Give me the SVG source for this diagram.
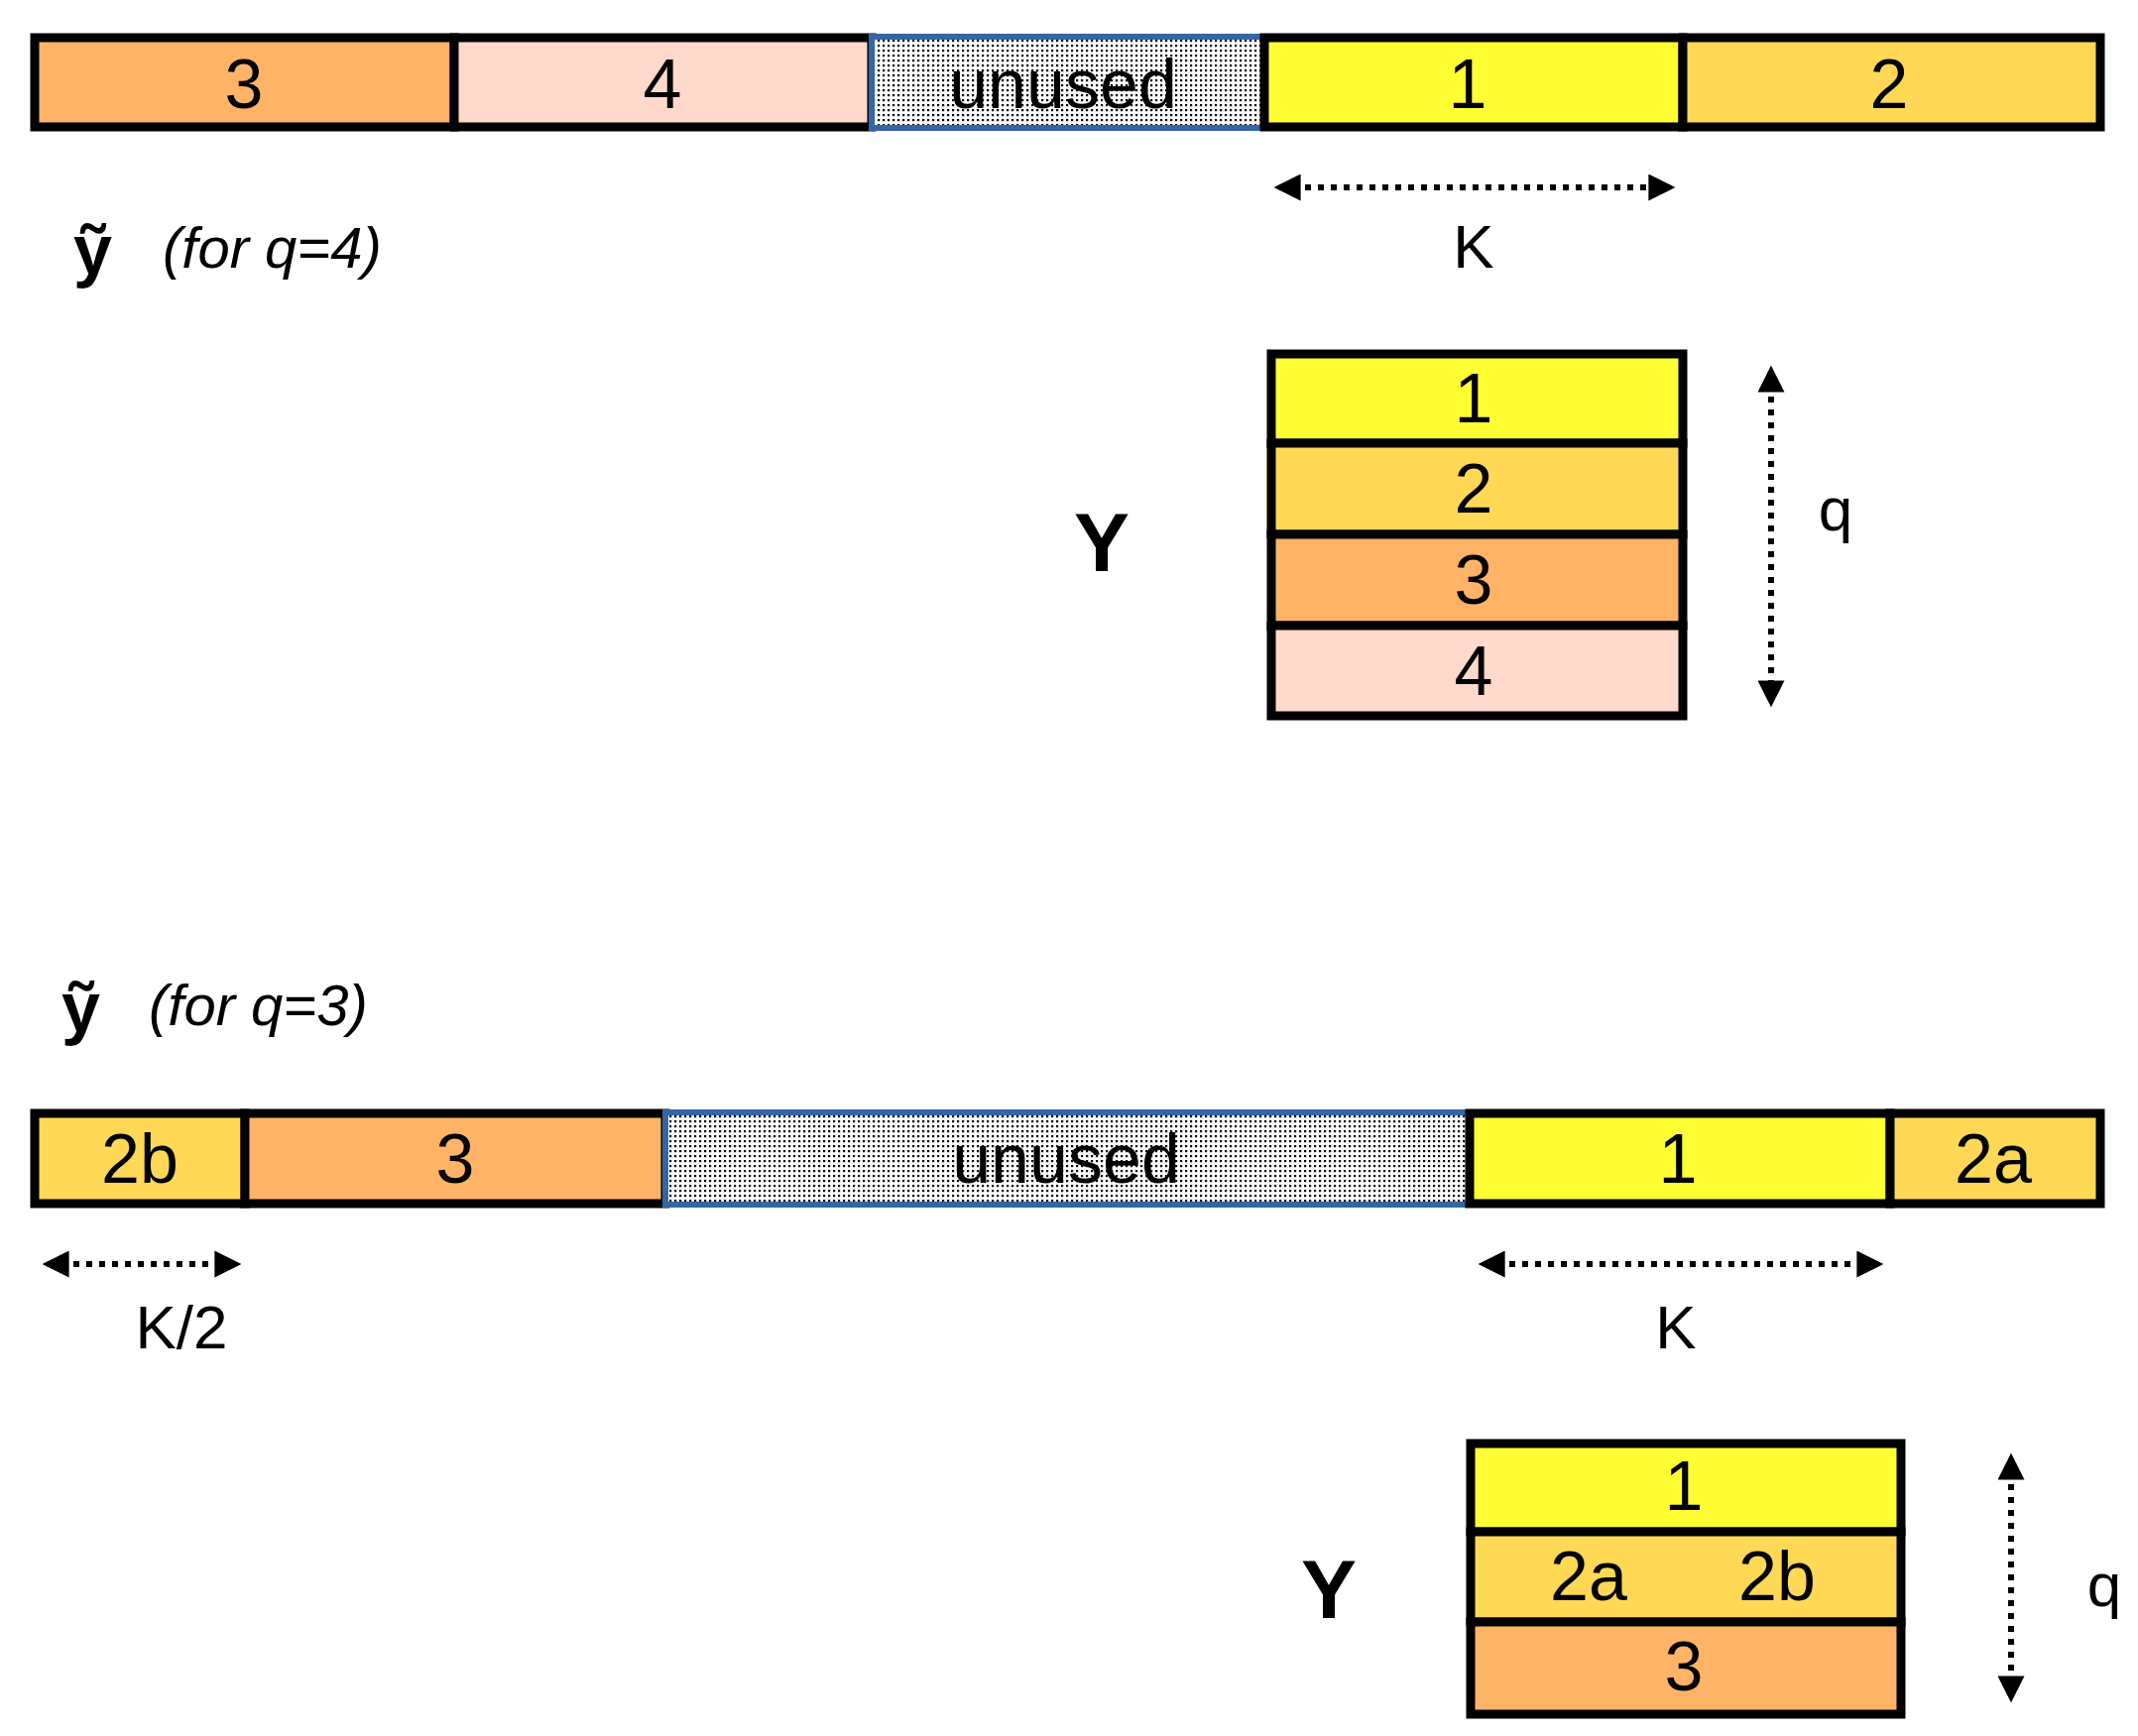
<svg xmlns="http://www.w3.org/2000/svg" width="2156" height="1751" viewBox="0 0 2156 1751">
<style>
.c{stroke:#000;stroke-width:9}
.u{stroke:#3465a4;stroke-width:6;fill:url(#dots)}
.y1{fill:#ffff33}.y2{fill:#ffd955}.y3{fill:#ffb366}.y4{fill:#ffd9cc}
text{font-family:"Liberation Sans",Arial,sans-serif;fill:#000}
.n{font-size:70px;text-anchor:middle}
.l{font-size:62px;text-anchor:middle}
.it{font-size:58px;font-style:italic}
.t{font-size:70px;font-weight:bold}
.b{font-size:84px;font-weight:bold;text-anchor:middle}
.a{stroke:#000;stroke-width:6;stroke-dasharray:6 7;fill:none;marker-start:url(#ah);marker-end:url(#ah)}
</style>
<defs>
<pattern id="dots" width="5" height="5" patternUnits="userSpaceOnUse"><rect width="5" height="5" fill="#fff"/><rect width="2.2" height="2.2" fill="#000"/></pattern>
<marker id="ah" viewBox="0 0 10 10" refX="8" refY="5" markerWidth="4.5" markerHeight="4.5" orient="auto-start-reverse" markerUnits="strokeWidth"><path d="M0,0L10,5L0,10z" fill="#000"/></marker>
</defs>
<g id="top-bar">
<rect class="c y3" x="35" y="38" width="423" height="90"/><text class="n" x="246" y="109">3</text>
<rect class="c y4" x="458" y="38" width="421" height="90"/><text class="n" x="668" y="109">4</text>
<rect class="u" x="879" y="37" width="396" height="92"/><text class="n" x="1072" y="109">unused</text>
<rect class="c y1" x="1275" y="38" width="422" height="90"/><text class="n" x="1480" y="109">1</text>
<rect class="c y2" x="1697" y="38" width="421" height="90"/><text class="n" x="1905" y="109">2</text>
</g>
<g id="label-y4"><text class="t" x="74" y="276">ỹ</text><text class="it" x="164" y="270">(for q=4)</text></g>
<g id="top-Y">
<text class="b" x="1111" y="576">Y</text>
<rect class="c y1" x="1282" y="357" width="415" height="90"/><text class="n" x="1486" y="426">1</text>
<rect class="c y2" x="1282" y="447" width="415" height="92"/><text class="n" x="1486" y="517">2</text>
<rect class="c y3" x="1282" y="539" width="415" height="92"/><text class="n" x="1486" y="609">3</text>
<rect class="c y4" x="1282" y="631" width="415" height="91"/><text class="n" x="1486" y="701">4</text>
</g>
<g id="label-y3"><text class="t" x="62" y="1040">ỹ</text><text class="it" x="150" y="1034">(for q=3)</text></g>
<g id="bottom-bar">
<rect class="c y2" x="35" y="1123" width="212" height="91"/><text class="n" x="141" y="1193">2b</text>
<rect class="c y3" x="247" y="1123" width="424" height="91"/><text class="n" x="459" y="1193">3</text>
<rect class="u" x="671" y="1122" width="811" height="93"/><text class="n" x="1075" y="1193">unused</text>
<rect class="c y1" x="1482" y="1123" width="424" height="91"/><text class="n" x="1692" y="1193">1</text>
<rect class="c y2" x="1906" y="1123" width="212" height="91"/><text class="n" x="2010" y="1193">2a</text>
</g>
<g id="bottom-Y">
<text class="b" x="1340" y="1632">Y</text>
<rect class="c y1" x="1483" y="1456" width="434" height="89"/><text class="n" x="1698" y="1523">1</text>
<rect class="c y2" x="1483" y="1545" width="434" height="91"/><text class="n" x="1602" y="1614">2a</text><text class="n" x="1792" y="1614">2b</text>
<rect class="c y3" x="1483" y="1636" width="434" height="93"/><text class="n" x="1698" y="1705">3</text>
</g>
<g id="connectors">
<line class="a" x1="1290" y1="189" x2="1684" y2="189"/>
<line class="a" x1="1786" y1="374" x2="1786" y2="708"/>
<line class="a" x1="48" y1="1275" x2="238" y2="1275"/>
<line class="a" x1="1496" y1="1275" x2="1894" y2="1275"/>
<line class="a" x1="2028" y1="1471" x2="2028" y2="1712"/>
</g>
<g id="labels">
<text class="l" x="1486" y="270">K</text>
<text class="l" x="1851" y="535">q</text>
<text class="l" x="183" y="1360">K/2</text>
<text class="l" x="1690" y="1360">K</text>
<text class="l" x="2122" y="1620">q</text>
</g>
</svg>
